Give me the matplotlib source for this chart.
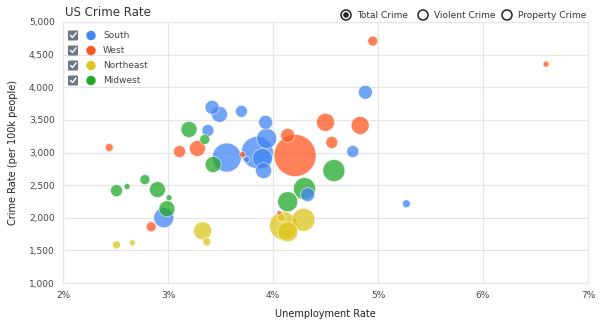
import matplotlib
matplotlib.use("Agg")
import matplotlib.pyplot as plt
from matplotlib.patches import FancyBboxPatch, Ellipse
from matplotlib.ticker import FuncFormatter, MultipleLocator
import numpy as np

# unemployment rate (%), crime rate (per 100k), population (millions)
south_x = [3.42, 3.49, 3.70, 3.93, 3.38, 3.94, 3.56, 3.85, 3.90, 3.91, 3.75, 4.88, 4.76, 4.33, 5.27, 2.96]
south_y = [3692, 3585, 3631, 3462, 3338, 3215, 2923, 3000, 2908, 2723, 2892, 3923, 3015, 2354, 2215, 2000]
south_pop = [10, 12, 8, 10, 8, 16, 25, 28, 16, 12, 2, 10, 8, 10, 4, 16]

west_x = [2.44, 3.11, 3.28, 3.71, 4.14, 4.21, 4.50, 4.83, 4.56, 4.95, 6.60, 2.84, 4.06]
west_y = [3077, 3015, 3062, 2969, 3262, 2954, 3462, 3415, 3154, 4708, 4354, 1862, 2077]
west_pop = [4, 8, 12, 2, 10, 38, 14, 14, 8, 6, 2, 6, 0.6]

ne_x = [4.29, 4.10, 4.14, 4.08, 3.33, 3.37, 2.51, 2.66]
ne_y = [1969, 1877, 1785, 2000, 1800, 1631, 1585, 1615]
ne_pop = [19, 24, 16, 4, 14, 4, 4, 2]

mw_x = [3.20, 3.35, 3.43, 4.58, 4.30, 4.14, 2.51, 2.61, 2.78, 2.90, 3.01, 2.99]
mw_y = [3354, 3200, 2815, 2723, 2446, 2246, 2415, 2477, 2585, 2431, 2308, 2138]
mw_pop = [12, 6, 12, 18, 18, 16, 8, 2, 6, 12, 2, 12]

regions = ["South", "West", "Northeast", "Midwest"]
colors = ["#4285f4", "#ff5722", "#dcc51c", "#22a82a"]
radio_labels = ["Total Crime", "Violent Crime", "Property Crime"]

W, H = 604, 324
DPI = 100


def px(x, y):
    return x / W, 1 - y / H


def dot(fig, x, y, r, **kw):
    # circle given in pixels, drawn in figure coords
    e = Ellipse(px(x, y), 2 * r / W, 2 * r / H, transform=fig.transFigure, **kw)
    fig.patches.append(e)


def main():
    fig = plt.figure(figsize=(W / DPI, H / DPI), dpi=DPI)
    plt.rcParams['font.family'] = ['DejaVu Sans']
    ax = fig.add_axes([63 / W, 1 - 283 / H, 525 / W, 261 / H])

    xs = np.array(south_x + west_x + ne_x + mw_x)
    ys = np.array(south_y + west_y + ne_y + mw_y)
    pops = np.array(south_pop + west_pop + ne_pop + mw_pop, dtype=float)
    cols = ([colors[0]] * len(south_x) + [colors[1]] * len(west_x)
            + [colors[2]] * len(ne_x) + [colors[3]] * len(mw_x))
    cols = np.array(cols)

    # radius in pixels grows linearly with population
    r_px = 2 + 0.5 * pops
    sizes = (2 * r_px * 72 / DPI) ** 2
    order = np.argsort(-pops, kind="stable")
    ax.scatter(xs[order], ys[order], s=sizes[order], c=cols[order], alpha=0.75,
               edgecolors="white", linewidths=0.5, zorder=3)

    ax.set_xlim(2, 7)
    ax.set_ylim(1000, 5000)
    ax.xaxis.set_major_locator(MultipleLocator(1))
    ax.yaxis.set_major_locator(MultipleLocator(500))
    ax.xaxis.set_major_formatter(FuncFormatter(lambda v, p: f"{v:.0f}%"))
    ax.yaxis.set_major_formatter(FuncFormatter(lambda v, p: f"{v:,.0f}"))
    ax.grid(True, color="#e6e6e6", linewidth=0.9, zorder=0)
    ax.set_axisbelow(True)
    for s in ax.spines.values():
        s.set_color("#e6e6e6")
    ax.tick_params(length=0, labelsize=6.5, colors="#444444", pad=6)
    ax.set_xlabel("Unemployment Rate", fontsize=7, color="#222222", labelpad=6)
    ax.set_ylabel("Crime Rate (per 100k people)", fontsize=7, color="#222222", labelpad=8)

    # title
    fig.text(*px(65, 13), "US Crime Rate", fontsize=8.5, color="#333333", va="center", ha="left")

    # legend with checkboxes
    for i, (name, col) in enumerate(zip(regions, colors)):
        yy = 35.5 + i * 15
        bx, by = px(68, yy + 5)
        fig.patches.append(FancyBboxPatch((bx, by), 10 / W, 10 / H,
                                          boxstyle="round,pad=0,rounding_size=0.002",
                                          transform=fig.transFigure, facecolor="#6e7885",
                                          edgecolor="none", zorder=5))
        cx = [px(70.5, yy)[0], px(72.5, yy + 2)[0], px(76, yy - 2.5)[0]]
        cy = [px(70.5, yy)[1], px(72.5, yy + 2)[1], px(76, yy - 2.5)[1]]
        fig.lines.append(plt.Line2D(cx, cy, transform=fig.transFigure, color="white",
                                    linewidth=1.0, zorder=6))
        dot(fig, 91, yy, 4.7, facecolor=col, edgecolor="none", zorder=5)
        fig.text(*px(103, yy), name, fontsize=6.5, color="#444444", va="center", ha="left")

    # radio buttons
    radio_x = [346, 423, 507]
    for i, (lab, rx) in enumerate(zip(radio_labels, radio_x)):
        dot(fig, rx, 15, 5, facecolor="white", edgecolor="#222222", linewidth=1.1, zorder=5)
        if i == 0:
            dot(fig, rx, 15, 2.8, facecolor="#222222", edgecolor="none", zorder=6)
        fig.text(*px(rx + 11, 15), lab, fontsize=6.5, color="#333333", va="center", ha="left")

    fig.savefig("out.png", dpi=DPI)


if __name__ == '__main__':
    main()
